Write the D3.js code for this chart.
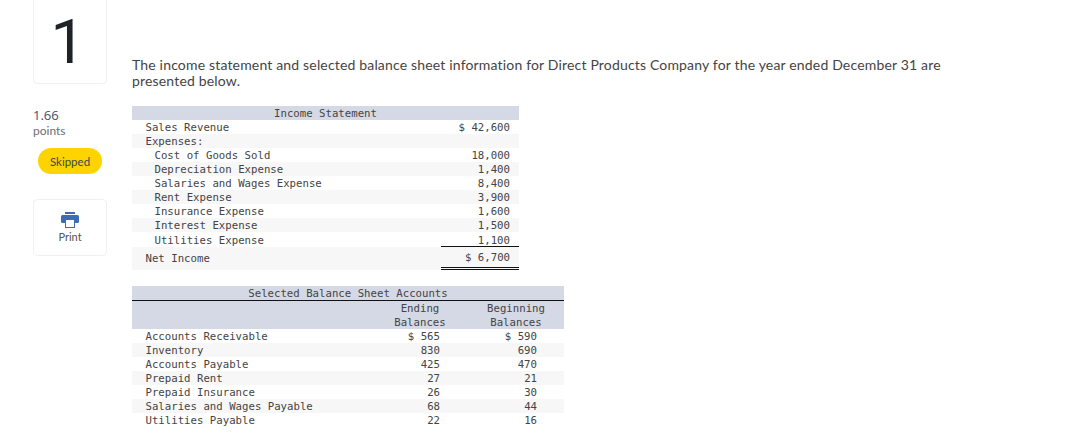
<!DOCTYPE html>
<html>
<head>
<meta charset="utf-8">
<script src="https://cdn.jsdelivr.net/npm/d3@7/dist/d3.min.js"></script>
<style>
body { margin: 0; background: #fff; }
svg { display: block; }
.mono { font-family: "DejaVu Sans Mono", monospace; font-size: 10.7px; fill: #444; }
.ui { font-family: "Lato", sans-serif; }
.num { font-family: "Open Sans", sans-serif; }
.big { font-family: "Roboto", sans-serif; }
</style>
</head>
<body>
<div id="chart-area"></div>
<script>
// income statement
var incomeLabels = ["Sales Revenue", "Expenses:", "Cost of Goods Sold", "Depreciation Expense",
    "Salaries and Wages Expense", "Rent Expense", "Insurance Expense", "Interest Expense",
    "Utilities Expense"];
var incomeValues = ["$ 42,600", "", "18,000", "1,400", "8,400", "3,900", "1,600", "1,500", "1,100"];
var incomeIndented = [false, false, true, true, true, true, true, true, true];
var netLabel = "Net Income";
var netValue = "$ 6,700";

// balance sheet accounts
var balanceLabels = ["Accounts Receivable", "Inventory", "Accounts Payable", "Prepaid Rent",
    "Prepaid Insurance", "Salaries and Wages Payable", "Utilities Payable"];
var endingValues = ["$ 565", "830", "425", "27", "26", "68", "22"];
var beginningValues = ["$ 590", "690", "470", "21", "30", "44", "16"];

var intro = ["The income statement and selected balance sheet information for Direct Products Company for the year ended December 31 are",
    "presented below."];

var headerFill = "#d5d9e5";
var stripeFill = "#f7f7f7";
var rowH = 14;

var svg = d3.select("#chart-area").append("svg")
    .attr("width", 1071)
    .attr("height", 444);

svg.append("rect").attr("width", 1071).attr("height", 444).attr("fill", "#fff");

// ---- left column
function card(y, h) {
    svg.append("rect")
        .attr("x", 33.5).attr("y", y)
        .attr("width", 73).attr("height", h)
        .attr("rx", 4)
        .attr("fill", "#fff")
        .attr("stroke", "#f0f0f0");
}
card(-6, 89.5);
card(199.5, 56);

svg.append("text").attr("class", "big")
    .attr("x", 68).attr("y", 63)
    .attr("text-anchor", "middle")
    .attr("font-size", 62)
    .attr("fill", "#1f2226")
    .text("1");

svg.append("text").attr("class", "num")
    .attr("x", 33).attr("y", 120)
    .attr("font-size", 13).attr("fill", "#3f5068")
    .text("1.66");
svg.append("text").attr("class", "ui")
    .attr("x", 33).attr("y", 135)
    .attr("font-size", 12).attr("fill", "#6b6f75")
    .text("points");

svg.append("rect")
    .attr("x", 38).attr("y", 148)
    .attr("width", 64).attr("height", 26)
    .attr("rx", 13)
    .attr("fill", "#fdd400");
svg.append("text").attr("class", "ui")
    .attr("x", 70).attr("y", 165.5)
    .attr("text-anchor", "middle")
    .attr("font-size", 11.5).attr("fill", "#444")
    .text("Skipped");

// printer icon
var printer = svg.append("g").attr("fill", "#3f6cb0");
printer.append("rect").attr("x", 65).attr("y", 212).attr("width", 10).attr("height", 2);
printer.append("rect").attr("x", 61).attr("y", 215).attr("width", 18).attr("height", 8).attr("rx", 1.5);
printer.append("rect").attr("x", 65.5).attr("y", 219.5).attr("width", 9).attr("height", 8)
    .attr("fill", "#fff").attr("stroke", "#3f6cb0").attr("stroke-width", 1);

svg.append("text").attr("class", "ui")
    .attr("x", 70).attr("y", 241)
    .attr("text-anchor", "middle")
    .attr("font-size", 11).attr("fill", "#555")
    .text("Print");

// ---- intro text
svg.selectAll("text.intro")
    .data(intro)
    .enter().append("text")
    .attr("class", "intro ui")
    .attr("x", 132)
    .attr("y", function(d, i){ return 70 + i * 16; })
    .attr("font-size", 14)
    .attr("letter-spacing", 0.17)
    .attr("fill", "#444")
    .text(function(d){ return d; });

// ---- income statement table
var incomeX = d3.scaleLinear().domain([0, 1]).range([132, 519]);
var incomeTop = 120;
var incomeY = d3.scaleBand()
    .domain(d3.range(incomeLabels.length))
    .range([incomeTop, incomeTop + rowH * incomeLabels.length]);

svg.append("rect")
    .attr("x", incomeX(0)).attr("y", 106)
    .attr("width", incomeX(1) - incomeX(0)).attr("height", rowH)
    .attr("fill", headerFill);
svg.append("text").attr("class", "mono")
    .attr("x", 325.5).attr("y", 117)
    .attr("text-anchor", "middle")
    .text("Income Statement");

svg.selectAll("rect.income-stripe")
    .data(d3.range(incomeLabels.length).filter(function(i){ return i % 2 == 1; }))
    .enter().append("rect")
    .attr("class", "income-stripe")
    .attr("x", incomeX(0))
    .attr("y", function(d){ return incomeY(d); })
    .attr("width", incomeX(1) - incomeX(0))
    .attr("height", rowH)
    .attr("fill", stripeFill);

// net income row sits lower and is a bit taller
svg.append("rect")
    .attr("x", incomeX(0)).attr("y", 247)
    .attr("width", incomeX(1) - incomeX(0)).attr("height", 23)
    .attr("fill", stripeFill);

svg.selectAll("text.income-label")
    .data(incomeLabels)
    .enter().append("text")
    .attr("class", "mono income-label")
    .attr("x", function(d, i){ return incomeIndented[i] ? 154.5 : 145.5; })
    .attr("y", function(d, i){ return incomeY(i) + 11 + (i == 8 ? 1 : 0); })
    .text(function(d){ return d; });

svg.selectAll("text.income-value")
    .data(incomeValues)
    .enter().append("text")
    .attr("class", "mono income-value")
    .attr("x", 510)
    .attr("y", function(d, i){ return incomeY(i) + 11 + (i == 8 ? 1 : 0); })
    .attr("text-anchor", "end")
    .text(function(d){ return d; });

svg.append("text").attr("class", "mono")
    .attr("x", 145.5).attr("y", 262).text(netLabel);
svg.append("text").attr("class", "mono")
    .attr("x", 510).attr("y", 261).attr("text-anchor", "end").text(netValue);

function rule(x1, x2, y) {
    svg.append("line")
        .attr("x1", x1).attr("x2", x2)
        .attr("y1", y).attr("y2", y)
        .attr("stroke", "#111").attr("stroke-width", 1);
}
rule(441, 519, 246.5);
rule(441, 519, 267.5);
rule(441, 519, 269.5);

// ---- balance sheet table
var balanceX = d3.scaleLinear().domain([0, 1]).range([132, 564]);
var balanceTop = 329;
var balanceY = d3.scaleBand()
    .domain(d3.range(balanceLabels.length))
    .range([balanceTop, balanceTop + rowH * balanceLabels.length]);

svg.append("rect")
    .attr("x", balanceX(0)).attr("y", 286)
    .attr("width", balanceX(1) - balanceX(0)).attr("height", 43)
    .attr("fill", headerFill);
rule(balanceX(0), balanceX(1), 300.5);

svg.append("text").attr("class", "mono")
    .attr("x", 348).attr("y", 297)
    .attr("text-anchor", "middle")
    .text("Selected Balance Sheet Accounts");

var headRows = [["Ending", "Beginning"], ["Balances", "Balances"]];
headRows.forEach(function(row, i){
    svg.append("text").attr("class", "mono")
        .attr("x", 420).attr("y", 312 + i * 14)
        .attr("text-anchor", "middle").text(row[0]);
    svg.append("text").attr("class", "mono")
        .attr("x", 516).attr("y", 312 + i * 14)
        .attr("text-anchor", "middle").text(row[1]);
});

svg.selectAll("rect.balance-stripe")
    .data(d3.range(balanceLabels.length).filter(function(i){ return i % 2 == 1; }))
    .enter().append("rect")
    .attr("class", "balance-stripe")
    .attr("x", balanceX(0))
    .attr("y", function(d){ return balanceY(d); })
    .attr("width", balanceX(1) - balanceX(0))
    .attr("height", rowH)
    .attr("fill", stripeFill);

svg.selectAll("text.balance-label")
    .data(balanceLabels)
    .enter().append("text")
    .attr("class", "mono balance-label")
    .attr("x", 145.5)
    .attr("y", function(d, i){ return balanceY(i) + 11; })
    .text(function(d){ return d; });

svg.selectAll("text.ending")
    .data(endingValues)
    .enter().append("text")
    .attr("class", "mono ending")
    .attr("x", 440)
    .attr("y", function(d, i){ return balanceY(i) + 11; })
    .attr("text-anchor", "end")
    .text(function(d){ return d; });

svg.selectAll("text.beginning")
    .data(beginningValues)
    .enter().append("text")
    .attr("class", "mono beginning")
    .attr("x", 537)
    .attr("y", function(d, i){ return balanceY(i) + 11; })
    .attr("text-anchor", "end")
    .text(function(d){ return d; });
</script>
</body>
</html>
